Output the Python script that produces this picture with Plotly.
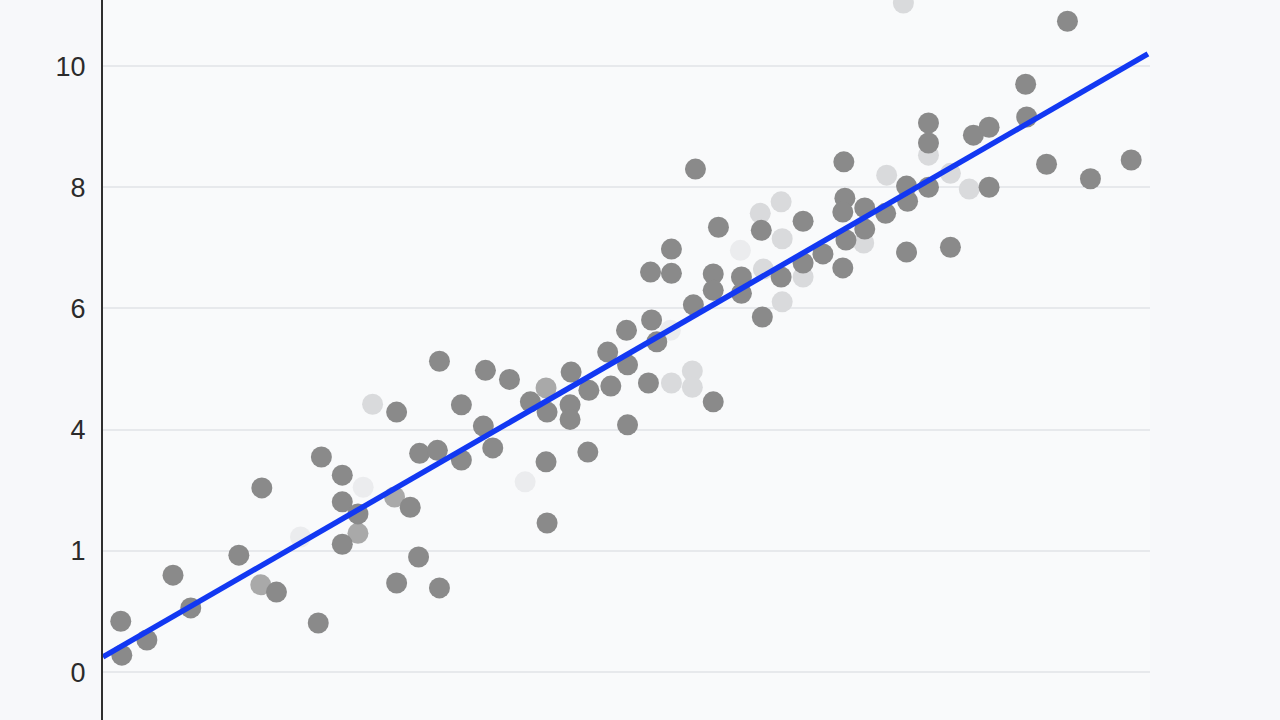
import plotly.graph_objects as go

# dark points
dark_x = [0.17, 0.18, 0.42, 0.67, 0.84, 1.30, 1.52, 1.66, 2.06, 2.09, 2.29, 2.29, 2.29, 2.44,
          2.81, 2.81, 2.94, 3.03, 3.02, 3.20, 3.22, 3.22, 3.43, 3.43, 3.64, 3.66, 3.73, 3.89,
          4.09, 4.25, 4.24, 4.25, 4.47, 4.47, 4.48, 4.64, 4.65, 4.83, 4.86, 5.01, 5.02, 5.02,
          5.24, 5.25, 5.22, 5.30, 5.44, 5.44, 5.67, 5.65, 5.84, 5.84, 5.84, 5.89, 6.11, 6.11,
          6.30, 6.31, 6.49, 6.70, 6.70, 6.89, 7.09, 7.10, 7.08, 7.11, 7.08, 7.29, 7.29, 7.49,
          7.69, 7.70, 7.69, 7.90, 7.90, 7.90, 8.11, 8.33, 8.48, 8.48, 8.83, 8.84, 9.03, 9.23,
          9.45, 9.84]
dark_y = [0.84, 0.28, 0.53, 1.60, 1.06, 1.93, 3.04, 1.32, 0.81, 3.55, 3.25, 2.81, 2.11, 2.61,
          4.29, 1.47, 2.72, 3.61, 1.90, 3.66, 5.13, 1.39, 4.41, 3.50, 4.06, 4.98, 3.70, 4.83,
          4.46, 4.29, 3.47, 2.46, 4.41, 4.17, 4.95, 3.63, 4.65, 5.28, 4.72, 5.64, 5.07, 4.08,
          6.60, 5.81, 4.77, 5.45, 6.98, 6.58, 8.30, 6.06, 6.57, 6.30, 4.46, 7.34, 6.52, 6.25,
          7.29, 5.86, 6.52, 7.44, 6.75, 6.90, 8.42, 7.82, 7.59, 7.13, 6.67, 7.66, 7.31, 7.57,
          8.02, 7.77, 6.93, 9.06, 8.73, 8.00, 7.01, 8.86, 8.99, 8.00, 9.70, 9.16, 8.38, 10.74,
          8.14, 8.45]

# medium grey points
mid_x = [2.44, 4.24, 1.51, 2.79]
mid_y = [2.29, 4.69, 1.44, 2.89]

# light grey points
light_x = [2.58, 7.66, 7.50, 7.90, 8.11, 8.29, 7.28, 6.70, 6.29, 6.49, 6.50, 6.32, 6.50,
           5.44, 5.64, 5.64]
light_y = [4.42, 11.04, 8.20, 8.53, 8.23, 7.97, 7.08, 6.52, 7.57, 7.76, 7.15, 6.65, 6.11,
           4.77, 4.97, 4.70]

# barely visible points
faint_x = [1.89, 2.49, 4.04, 5.43, 6.10]
faint_y = [2.23, 3.05, 3.14, 5.64, 6.96]

# fitted line
fit_x = [0, 10]
fit_intercept = 0.25
fit_slope = 0.995
fit_y = [fit_intercept + fit_slope * v for v in fit_x]

tick_vals = [0, 2, 4, 6, 8, 10]
tick_text = ["0", "1", "4", "6", "8", "10"]

fig = go.Figure()
for xs, ys, col in [(faint_x, faint_y, "#ebecee"), (light_x, light_y, "#d9dadc"),
                    (mid_x, mid_y, "#a9a9a9"), (dark_x, dark_y, "#8a8a8a")]:
    fig.add_trace(go.Scatter(x=xs, y=ys, mode="markers",
                             marker=dict(size=21, color=col, line=dict(width=0))))
fig.add_trace(go.Scatter(x=fit_x, y=fit_y, mode="lines",
                         line=dict(color="#1238f2", width=5.5)))

fig.update_layout(
    width=1280, height=720,
    margin=dict(l=103, r=130, t=0, b=0),
    paper_bgcolor="#f7f8fa", plot_bgcolor="#f9fafb",
    showlegend=False,
    font=dict(family="Liberation Sans, Arial, sans-serif", color="#2b2b2b"),
)
fig.update_xaxes(range=[0, 10.02], showgrid=False, showticklabels=False,
                 zeroline=False, showline=False)
fig.update_yaxes(range=[-0.79, 11.09], tickvals=tick_vals, ticktext=tick_text,
                 tickfont=dict(size=27), showgrid=True, gridcolor="#e7e9ec", gridwidth=1.5,
                 zeroline=False, showline=True, linecolor="#2f2f2f", linewidth=2,
                 ticks="outside", ticklen=10, tickcolor="rgba(0,0,0,0)")

# drop the default page margin so the figure fills the window
fig.write_html("out.html", config={"displayModeBar": False},
               post_script="document.body.style.margin='0';"
                           "document.body.style.background='#f7f8fa';")
